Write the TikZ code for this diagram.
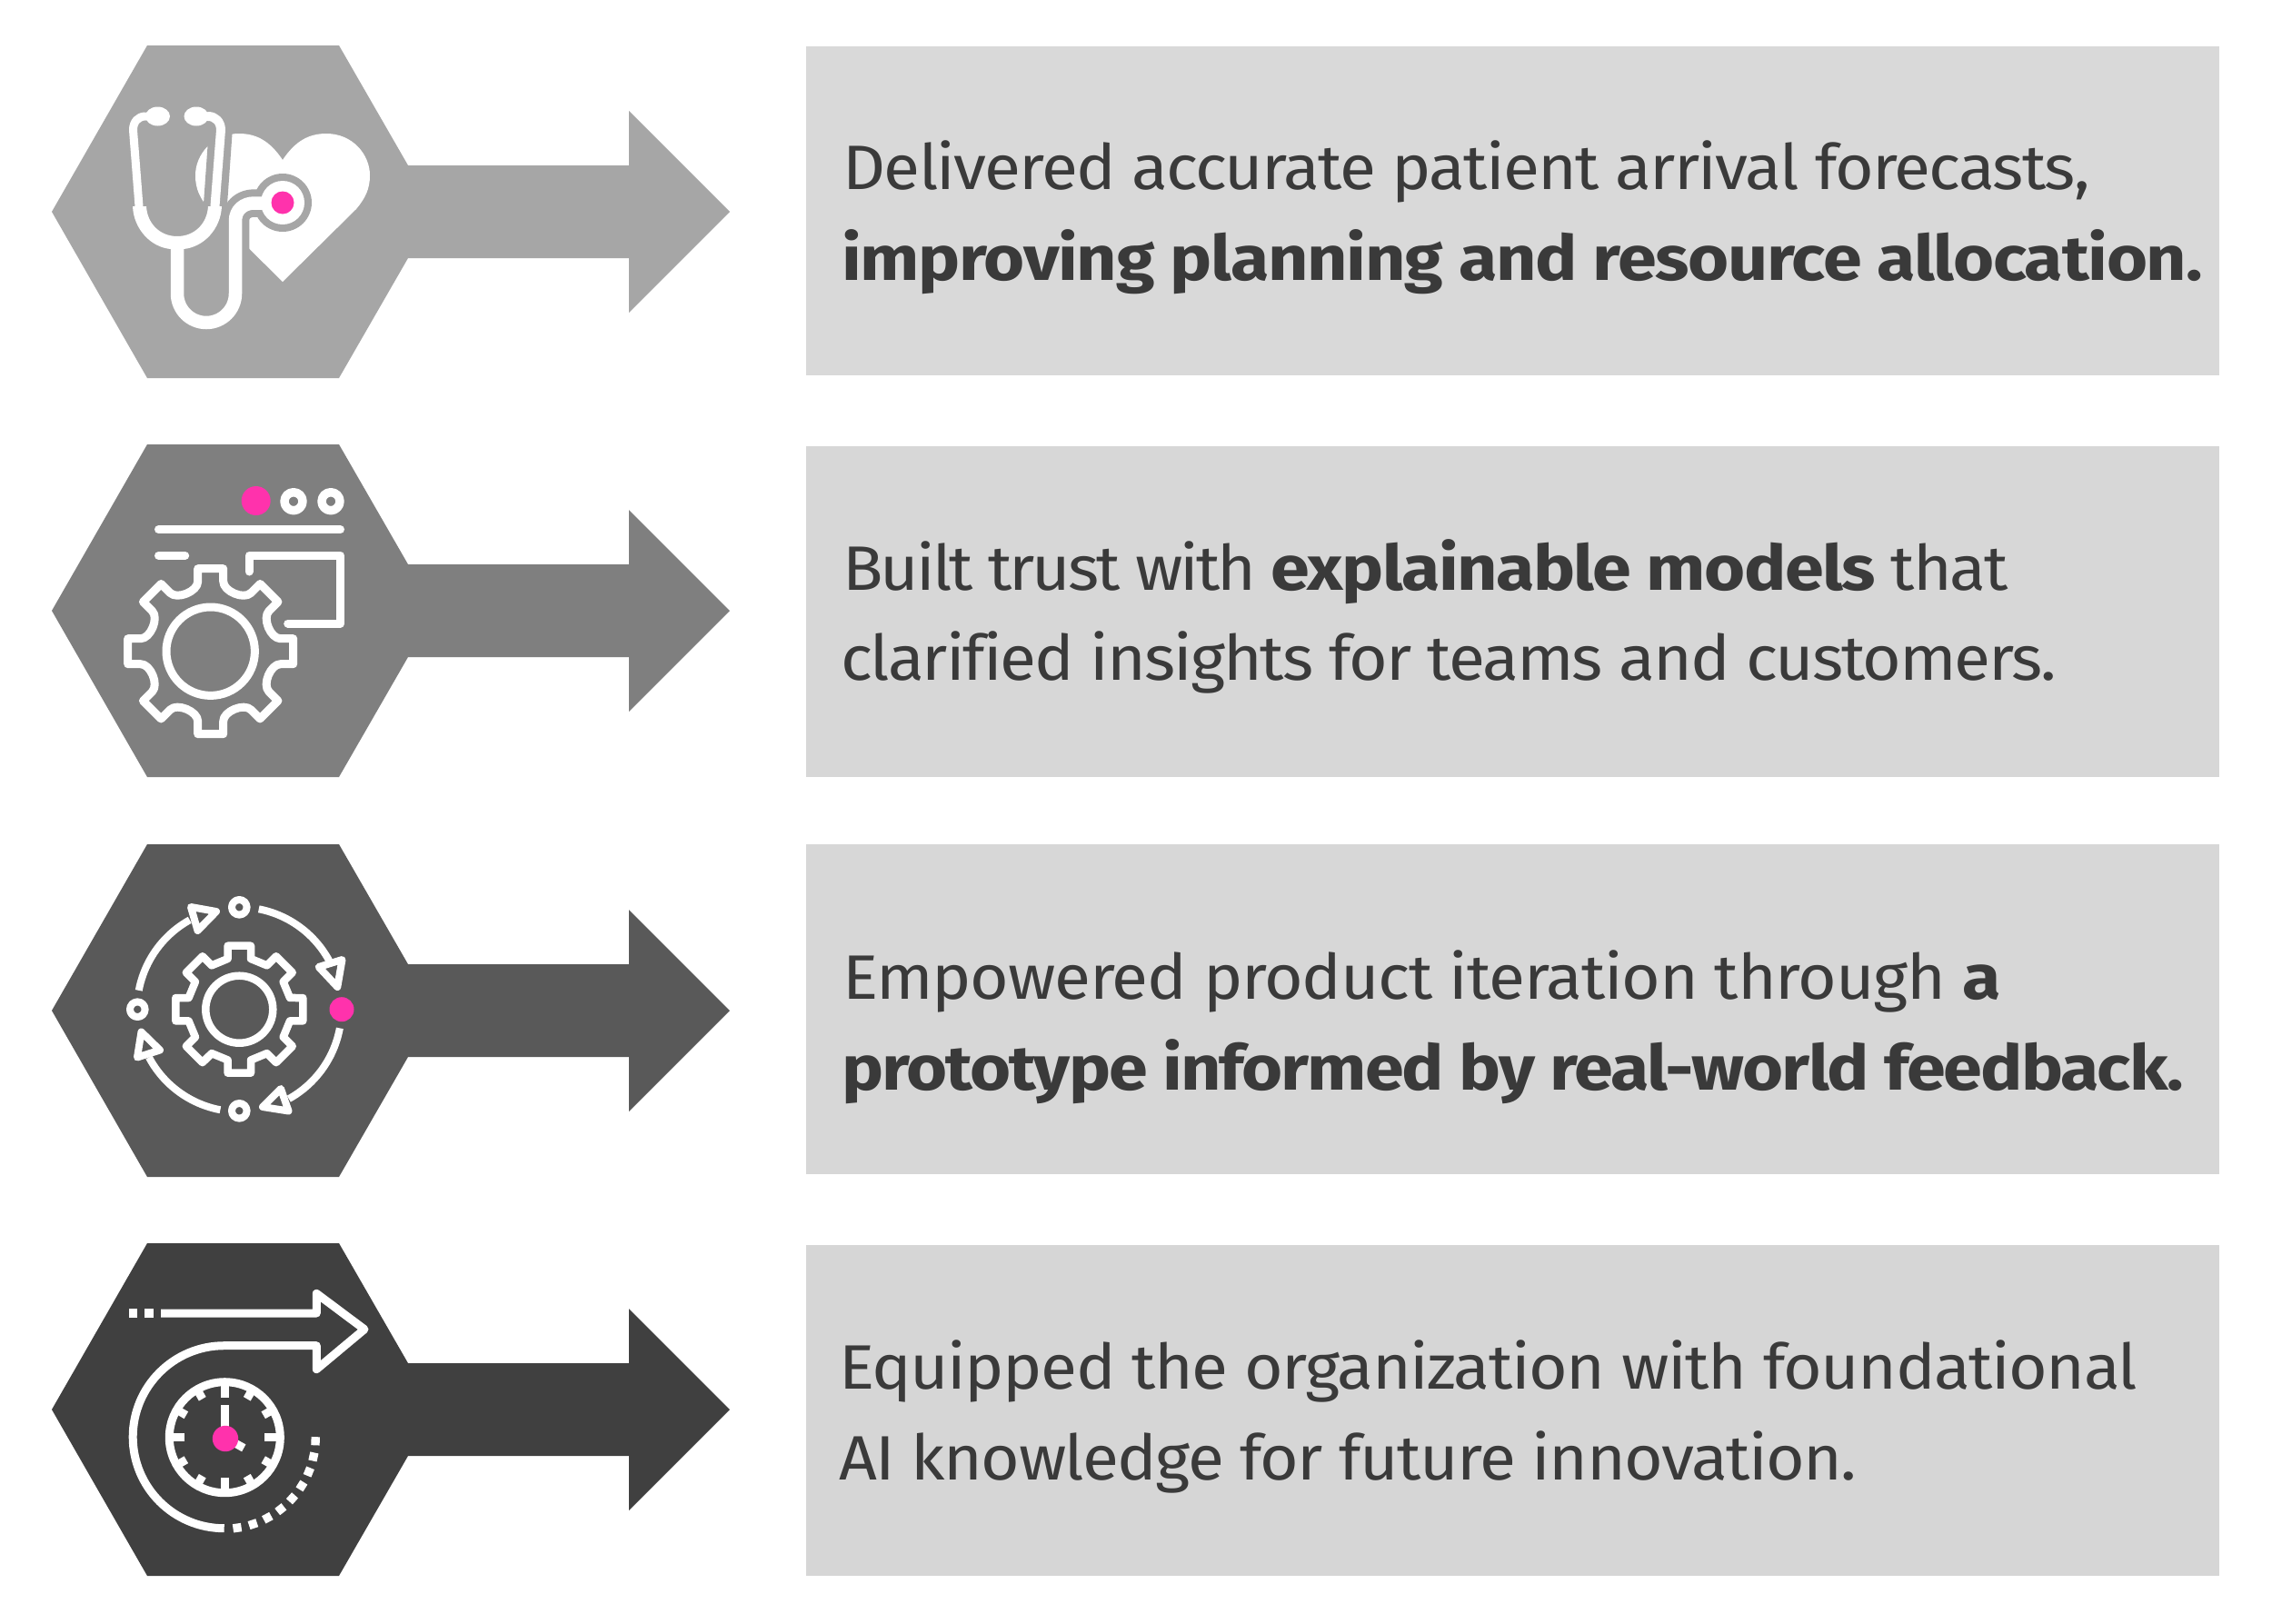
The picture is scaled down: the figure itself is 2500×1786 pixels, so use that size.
\documentclass[tikz,border=0pt]{standalone}
\usepackage{fontspec}
\setmainfont[FakeStretch=1.06,BoldFeatures={FakeStretch=1.12},Ligatures=NoCommon]{Fira Sans}
\definecolor{hexa}{HTML}{A6A6A6}
\definecolor{hexb}{HTML}{7F7F7F}
\definecolor{hexc}{HTML}{595959}
\definecolor{hexd}{HTML}{404040}
\definecolor{panela}{HTML}{D9D9D9}
\definecolor{panelb}{HTML}{D7D7D7}
\definecolor{panelc}{HTML}{D6D6D6}
\definecolor{ink}{HTML}{3A3A3A}
\definecolor{hot}{HTML}{FF32AC}
\tikzset{
  ico/.style={draw=white,line width=#1,line join=round,line cap=round},
  icobutt/.style={draw=white,line width=#1,line cap=butt},
  dot/.style={fill=hot,draw=none},
  txt/.style={anchor=base west,inner sep=0pt,outer sep=0pt,text=ink,font=\fontsize{69}{100}\selectfont}
}
\newcommand{\lsr}[2]{{\addfontfeatures{LetterSpace=#1}#2}}
\newcommand{\lsb}[2]{{\bfseries\addfontfeatures{LetterSpace=#1}#2}}
\newcommand{\rowshape}[2]{%
  \fill[#2] (57,#1) -- (162,#1-183) -- (373,#1-183) -- (449,#1-51) -- (692,#1-51) -- (692,#1-111) -- (803,#1) -- (692,#1+111) -- (692,#1+51) -- (449,#1+51) -- (373,#1+183) -- (162,#1+183) -- cycle;}
\begin{document}
\begin{tikzpicture}[x=1pt,y=1pt,yscale=-1]
\useasboundingbox (0,0) rectangle (2500,1786);
\fill[white] (0,0) rectangle (2500,1786);
% panels
\fill[panela] (887,51) rectangle (2442,413);
\fill[panelb] (887,491) rectangle (2442,855);
\fill[panelb] (887,929) rectangle (2442,1292);
\fill[panelc] (887,1370) rectangle (2442,1734);
% arrows
\rowshape{233}{hexa}
\rowshape{672}{hexb}
\rowshape{1112}{hexc}
\rowshape{1551}{hexd}
% texts
\node[txt] (t1a) at (927.5,208) {\lsr{-2.5}{Delivered accurate patient arrival forecasts,}};
\node[txt] (t1b) at (926,308) {\lsb{-1.85}{improving planning and resource allocation.}};
\node[txt] (t2a) at (927.5,649) {\lsr{-4.4}{Built trust with\ }\lsb{-2.3}{explainable models}\lsr{-3.3}{\ that}};
\node[txt] (t2b) at (925,748.5) {\lsr{-2.9}{clarified insights for teams and customers.}};
\node[txt] (t3a) at (927,1099) {\lsr{-1.8}{Empowered product iteration through\ }\lsb{-2}{a}};
\node[txt] (t3b) at (926.5,1199) {\lsb{-2.8}{prototype informed by real-world feedback.}};
\node[txt] (t4a) at (923,1528) {\lsr{-2.15}{Equipped the organization with foundational}};
\node[txt] (t4b) at (923,1628) {\lsr{-2.3}{AI knowledge for future innovation.}};
% ---- icon 1
\fill[white] (311,176) .. controls (325,155) and (340,147) .. (359,147)
  .. controls (388,147) and (407,170) .. (407,193)
  .. controls (407,208) and (402,218) .. (392,230)
  -- (311,310) -- (230,230)
  .. controls (220,218) and (215,208) .. (215,193)
  .. controls (215,170) and (234,147) .. (263,147)
  .. controls (282,147) and (297,155) .. (311,176) -- cycle;
\draw[hexa,line width=26pt] (243,140) -- (236.5,232);
\fill[hexa] (214,224) -- (249,224) -- (246,245) -- (246,320) -- (214,320) -- cycle;
\draw[hexa,line width=30.5pt,line join=round] (259,300) -- (259,243) .. controls (259,231) and (268,223.5) .. (280,223.5) -- (295,223.5);
\fill[hexa] (311,223) circle[radius=32];
\draw[ico=9pt] (160,128) .. controls (152,128) and (146.5,134) .. (146.5,143) -- (153,227);
\draw[ico=10pt] (229,128) .. controls (237,128) and (243,134) .. (243,143) -- (236.5,227);
\fill[white] (173.5,128) ellipse[x radius=13.5,y radius=10.5];
\fill[white] (216,128) ellipse[x radius=13.5,y radius=10.5];
\fill[white] (146,227) -- (161,227) .. controls (162,246) and (176,260) .. (195,260)
  .. controls (214,260) and (228,246) .. (229,227) -- (244,227)
  .. controls (243,252) and (224,272) .. (202,274) -- (187.5,274)
  .. controls (166,272) and (147,252) .. (146,227) -- cycle;
\draw[icobutt=14.5pt] (195,270) -- (195,323) arc[start angle=180,delta angle=-180,radius=32] -- (259,243)
  .. controls (259,231) and (268,223.5) .. (280,223.5) -- (295,223.5);
\fill[white] (311,223) circle[radius=24];
\fill[dot] (311,223) circle[radius=12.5];
% ---- icon 2
\fill[dot] (281.7,551) circle[radius=16];
\draw[ico=9.5pt] (323,551.7) circle[radius=10];
\draw[ico=9.5pt] (364,551.7) circle[radius=10];
\draw[ico=9pt] (174.5,582.7) -- (374.5,582.7);
\draw[ico=9pt] (174.5,611.3) -- (203.7,611.3);
\draw[ico=9pt] (274,629) -- (274,611) -- (374.5,611) -- (374.5,686) -- (316.7,686);
\begin{scope}[shift={(231.7,716.7)}]
\draw[ico=9pt] (0,0) circle[radius=48.7];
\draw[ico=9pt] (-14,-91) \foreach \a in {0,45,...,315}{ -- ([rotate=\a]-14,-91) -- ([rotate=\a]14,-91) -- ([rotate=\a]14,-77) .. controls ([rotate=\a]14,-66) and ([rotate=\a]36.7,-56.5) .. ([rotate=\a]44.5,-64.3)} -- cycle;
\end{scope}
% ---- icon 3
\begin{scope}[shift={(263.3,1110.7)}]
\draw[ico=8.5pt] (0,0) circle[radius=37];
\draw[ico=8.5pt] (-12.7,-70) \foreach \a in {0,45,...,315}{ -- ([rotate=\a]-12.7,-70) -- ([rotate=\a]12.7,-70) -- ([rotate=\a]12.7,-55.7) -- ([rotate=\a]30.4,-48.4)} -- cycle;
\draw[icobutt=8pt] (-79:112.5) arc[start angle=-79,end angle=-28,radius=112.5];
\draw[icobutt=8pt] (10.6:112.5) arc[start angle=10.6,end angle=61,radius=112.5];
\draw[icobutt=8pt] (100.7:112.5) arc[start angle=100.7,end angle=152,radius=112.5];
\draw[icobutt=8pt] (190.7:112.5) arc[start angle=190.7,end angle=241,radius=112.5];
\draw[ico=8pt] (0,-112.4) circle[radius=8.3];
\draw[ico=8pt] (-112,0) circle[radius=8.3];
\draw[ico=8pt] (0,111.6) circle[radius=8.3];
\end{scope}
\draw[ico=8pt] (376.5,1056) -- (350.7,1064) -- (371.3,1086) -- cycle;
\draw[ico=8pt] (309,1198) -- (317.5,1222.5) -- (289,1218) -- cycle;
\draw[ico=8pt] (155.5,1135.5) -- (176,1155.5) -- (151,1163.5) -- cycle;
\draw[ico=8pt] (210,998) -- (238,1003) -- (217.5,1024) -- cycle;
\fill[dot] (376,1110.7) circle[radius=13.5];
% ---- icon 4
\fill[white] (142,1440.3) rectangle (151,1449.7);
\fill[white] (159.3,1440.3) rectangle (168.7,1449.7);
\draw[draw=white,line width=9pt,line join=round] (177,1445) -- (348.3,1445) -- (348.3,1423.3) -- (401,1462.7) -- (348.3,1506.7) -- (348.3,1480.7) -- (246.7,1480.7) arc[start angle=-90,delta angle=-180,radius=100.5];
\begin{scope}[shift={(246.7,1581.7)}]
\foreach \a in {2.3,12.2,22.1,32,41.9,51.8,61.7,71.6,81.8}{
  \fill[white,rotate=\a] (95.8,-4.6) rectangle (105.2,4.6);}
\end{scope}
\begin{scope}[shift={(247.3,1581.7)}]
\draw[icobutt=9pt] (0,0) circle[radius=61];
\foreach \a in {0,90,180,270}{\draw[icobutt=9pt,rotate=\a] (44,0) -- (58,0);}
\foreach \a in {30,60,120,150,210,240,300,330}{\draw[icobutt=9pt,rotate=\a] (49,0) -- (58,0);}
\draw[icobutt=9pt] (0,0) -- (0,-36);
\draw[icobutt=9pt] (0,0) -- (29:24);
\end{scope}
\fill[dot] (248,1583) circle[radius=14.2];
\end{tikzpicture}
\end{document}
